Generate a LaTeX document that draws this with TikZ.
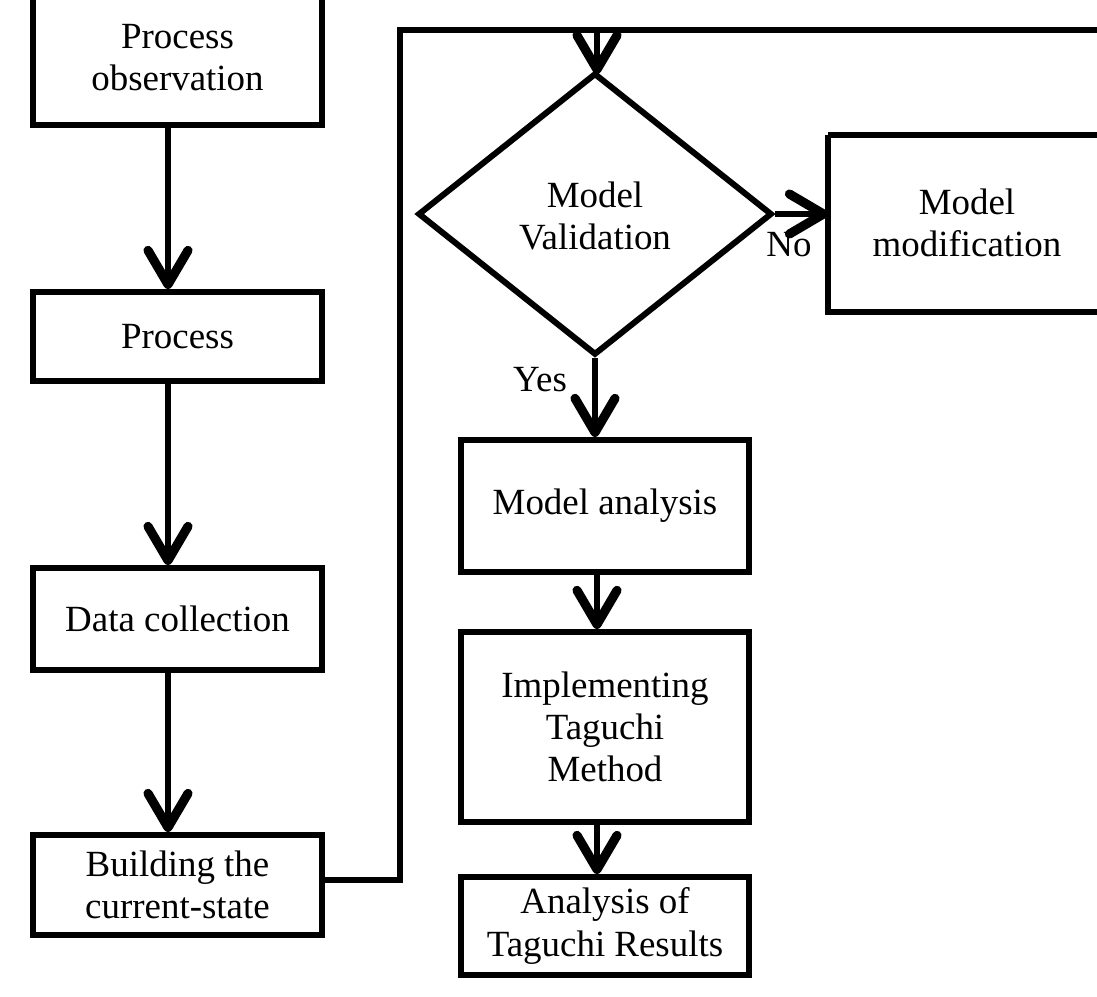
\documentclass[tikz,border=0pt]{standalone}
\usepackage{fontspec}
\setmainfont{Liberation Serif}
\usetikzlibrary{arrows.meta,shapes.geometric}
\begin{document}
\begin{tikzpicture}[x=0.01cm,y=-0.01cm,
  box/.style={draw,line width=1.7pt,inner sep=0pt,align=center,font=\fontsize{10.5}{12}\selectfont},
  lbl/.style={font=\fontsize{10.5}{12}\selectfont},
  arr/.style={line width=1.7pt,-{Straight Barb[round,length=0.34cm,width=0.4cm,line width=2.6pt]}},
  ln/.style={line width=1.7pt}]
\useasboundingbox (0,0) rectangle (1097,997);
\clip (0,0) rectangle (1097,997);
\node[box,minimum width=2.89cm,minimum height=1.35cm] (po) at (177.5,57.5) {Process\\observation};
\node[box,minimum width=2.89cm,minimum height=0.89cm] (p) at (177.5,336.5) {Process};
\node[box,minimum width=2.89cm,minimum height=1.02cm] (dc) at (177.5,619) {Data collection};
\node[box,minimum width=2.89cm,minimum height=1.0cm] (bc) at (177.5,885) {Building the\\current-state};
\draw[arr] (po.south -| 168,0) -- (p.north -| 168,0);
\draw[arr] (p.south -| 168,0) -- (dc.north -| 168,0);
\draw[arr] (dc.south -| 168,0) -- (bc.north -| 168,0);
\node[draw,diamond,line width=1.7pt,minimum width=3.54cm,minimum height=2.82cm,inner sep=0pt,aspect=1.25] (mv) at (595,214) {};
\node[lbl,align=center] at (595,216) {Model\\Validation};
\coordinate (c1) at (400,880);
\coordinate (c2) at (400,30);
\coordinate (c3) at (597,30);
\coordinate (c4) at (1110,30);
\draw[ln] (bc.east |- 0,880) -- (c1) -- (c2) -- (c4);
\draw[arr] (c3) -- (597,74);
\draw[ln] (828,135) -- (1110,135) (828,135) -- (828,312) -- (1110,312);
\node[lbl,align=center] (mm) at (967,223) {Model\\modification};
\coordinate (mmw) at (828,214);
\draw[arr] (mv.east) -- (mmw);
\node[lbl] at (789,245) {No};
\node[lbl] at (540,380) {Yes};
\node[box,minimum width=2.88cm,minimum height=1.32cm] (ma) at (605,506) {Model analysis};
\node[box,minimum width=2.88cm,minimum height=1.9cm] (it) at (605,727) {Implementing\\Taguchi\\Method};
\node[box,minimum width=2.88cm,minimum height=0.98cm] (at) at (605,926) {Analysis of\\Taguchi Results};
\draw[arr] (mv.south) -- (ma.north -| mv.south);
\draw[arr] (ma.south -| 597,0) -- (it.north -| 597,0);
\draw[arr] (it.south -| 597,0) -- (at.north -| 597,0);
\end{tikzpicture}
\end{document}
